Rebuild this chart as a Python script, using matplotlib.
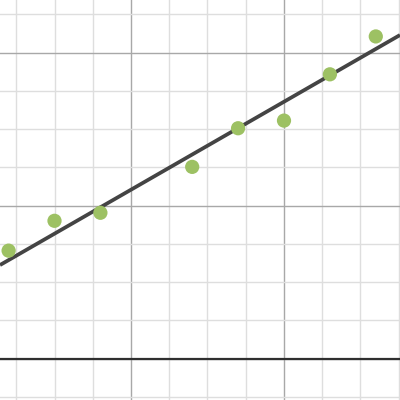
import matplotlib
matplotlib.use("Agg")
import matplotlib.pyplot as plt
import numpy as np

# data
x_vals = [0.8, 2.0, 3.2, 5.6, 6.8, 8.0, 9.2, 10.4]
y_vals = [2.82, 3.60, 3.81, 5.01, 6.02, 6.22, 7.43, 8.42]
fit_slope = 0.575
fit_intercept = 2.113

fig = plt.figure(figsize=(4, 4), dpi=100)
ax = fig.add_axes([0, 0, 1, 1])

ax.set_xticks(np.arange(0, 13, 4))
ax.set_xticks(np.arange(0, 13, 1), minor=True)
ax.set_yticks(np.arange(0, 12, 4))
ax.set_yticks(np.arange(-1, 11, 1), minor=True)
ax.grid(which="minor", color="#dedede", linewidth=1.0, zorder=0)
ax.grid(which="major", color="#a8a8a8", linewidth=1.0, zorder=0)
ax.tick_params(which="both", length=0, labelbottom=False, labelleft=False)
for s in ax.spines.values():
    s.set_visible(False)
ax.set_axisbelow(True)

ax.axhline(0, color="#2f2f2f", linewidth=1.6, zorder=1)

ax.axline((0, fit_intercept), slope=fit_slope, color="#444444", linewidth=2.7, zorder=2,
          solid_capstyle="butt")
ax.scatter(x_vals, y_vals, s=105, color="#9dc163", edgecolors="none", zorder=3)

ax.set_xlim(0.575, 11.033)
ax.set_ylim(-1.085, 9.373)

fig.savefig("out.png", dpi=100)
